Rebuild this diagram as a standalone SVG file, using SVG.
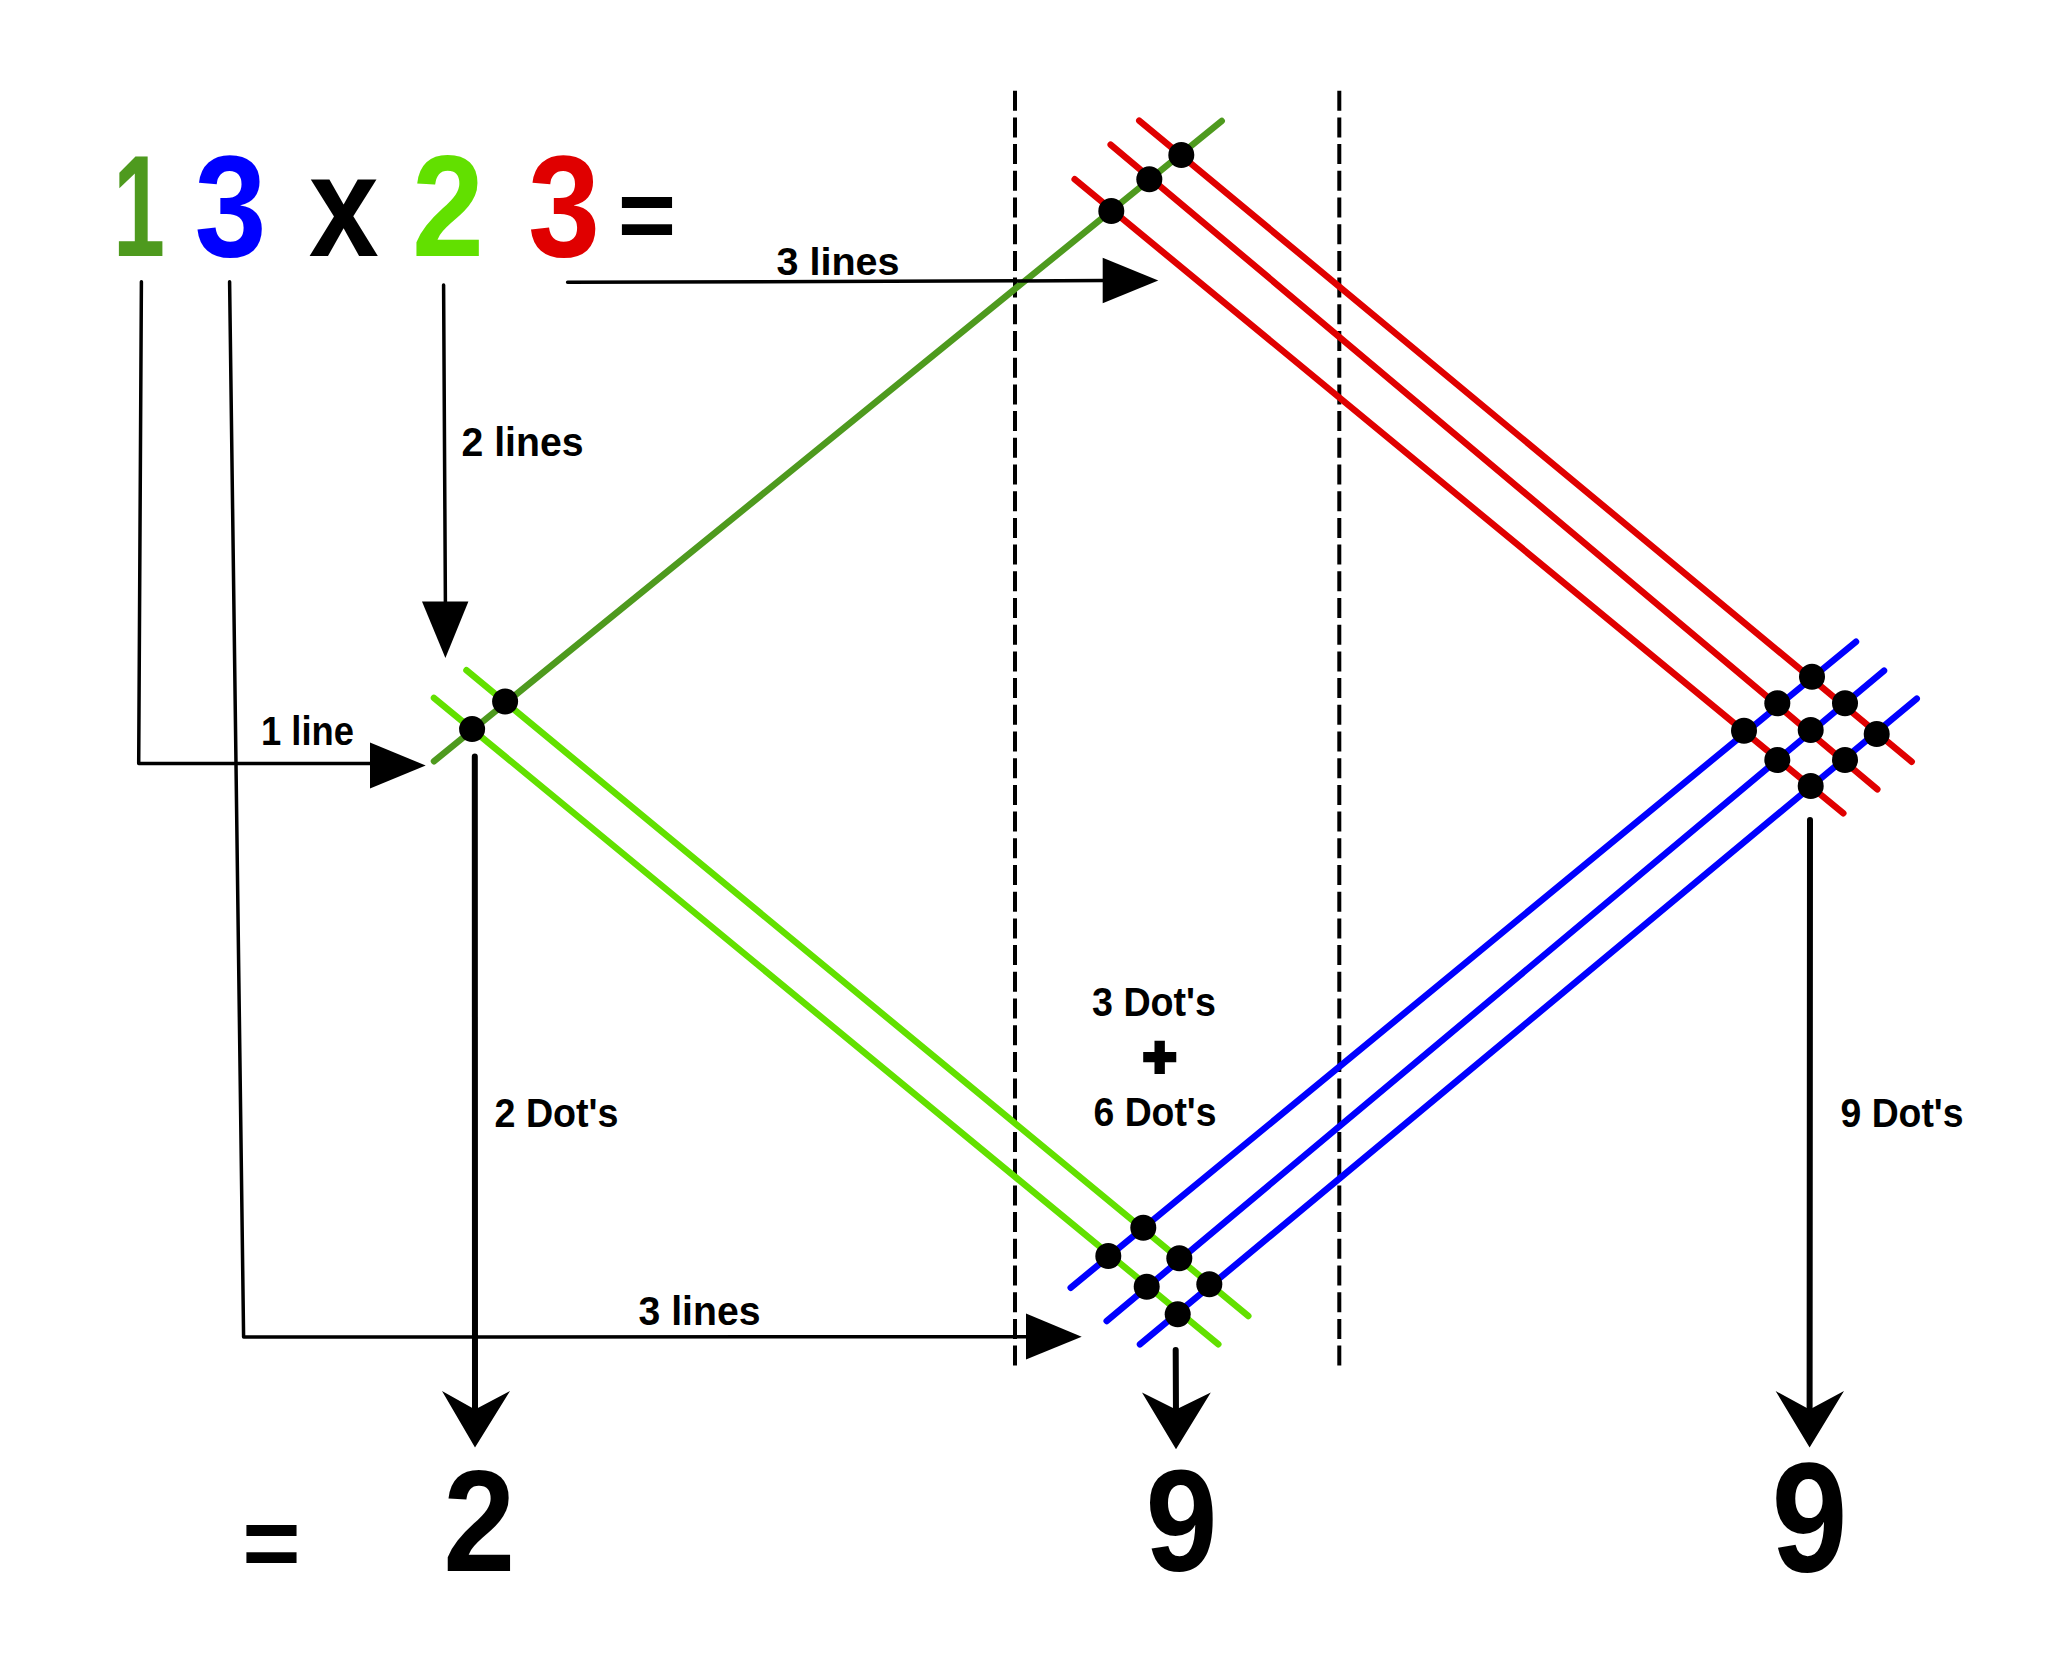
<svg xmlns="http://www.w3.org/2000/svg" width="2048" height="1657" viewBox="0 0 2048 1657">
<style>
.t{font-family:"Liberation Sans",Arial,sans-serif;font-weight:bold;fill:#000}
.big{font-size:145px}
.lbl{font-size:40px}
.c{fill:none;stroke:#000;stroke-width:3.5;stroke-linecap:round;stroke-linejoin:round}
.ca{fill:none;stroke:#000;stroke-width:6;stroke-linecap:round}
.h{fill:#000}
.dash{fill:none;stroke:#000;stroke-width:4;stroke-dasharray:20 6.7}
.dg{stroke:#4e9a1e;stroke-width:6.5;stroke-linecap:round}
.lg{stroke:#62e000;stroke-width:6.5;stroke-linecap:round}
.rd{stroke:#e00000;stroke-width:6.5;stroke-linecap:round}
.bl{stroke:#0000ff;stroke-width:6.5;stroke-linecap:round}
.dot{fill:#000}
</style>
<rect width="2048" height="1657" fill="#fff"/>

<g id="equation">
<text class="t big" x="139" y="256" text-anchor="middle" style="fill:#4e9a1e" textLength="52" lengthAdjust="spacingAndGlyphs">1</text>
<text class="t big" x="230.5" y="256" text-anchor="middle" style="fill:#0000ff" textLength="72" lengthAdjust="spacingAndGlyphs">3</text>
<text class="t big" x="343.7" y="256" text-anchor="middle" textLength="70" lengthAdjust="spacingAndGlyphs">x</text>
<text class="t big" x="448" y="256" text-anchor="middle" style="fill:#62e000" textLength="72" lengthAdjust="spacingAndGlyphs">2</text>
<text class="t big" x="564" y="256" text-anchor="middle" style="fill:#e00000" textLength="72" lengthAdjust="spacingAndGlyphs">3</text>
<text class="t" x="647" y="248.5" text-anchor="middle" font-size="100">=</text>
</g>

<g id="dividers">
<line class="dash" x1="1015" y1="90.7" x2="1015" y2="1371"/>
<line class="dash" x1="1339.3" y1="90.7" x2="1339.3" y2="1371"/>
</g>

<g id="line-groups">
<line class="dg" x1="434" y1="761.2" x2="1221.7" y2="121"/>
<line class="lg" x1="434" y1="697.9" x2="1218.3" y2="1344.3"/>
<line class="lg" x1="466.5" y1="670.3" x2="1248.3" y2="1316"/>
<line class="rd" x1="1139.3" y1="120.7" x2="1911.7" y2="761.7"/>
<line class="rd" x1="1110.7" y1="144.7" x2="1877.3" y2="789.3"/>
<line class="rd" x1="1074.7" y1="179.3" x2="1843.3" y2="813.3"/>
<line class="bl" x1="1070.7" y1="1287.7" x2="1856" y2="641.7"/>
<line class="bl" x1="1106.7" y1="1321" x2="1884" y2="670.7"/>
<line class="bl" x1="1140" y1="1344.3" x2="1916.7" y2="698.7"/>
</g>

<g id="dots">
<circle class="dot" cx="505.1" cy="701.5" r="13"/>
<circle class="dot" cx="472.1" cy="729.1" r="13"/>
<circle class="dot" cx="1181.3" cy="155" r="13"/>
<circle class="dot" cx="1149.3" cy="179.3" r="13"/>
<circle class="dot" cx="1111.3" cy="211" r="13"/>
<circle class="dot" cx="1812" cy="676.7" r="13"/>
<circle class="dot" cx="1777.3" cy="703.3" r="13"/>
<circle class="dot" cx="1845" cy="703.3" r="13"/>
<circle class="dot" cx="1744" cy="730.7" r="13"/>
<circle class="dot" cx="1810.7" cy="730" r="13"/>
<circle class="dot" cx="1876.7" cy="734" r="13"/>
<circle class="dot" cx="1777.3" cy="760" r="13"/>
<circle class="dot" cx="1845" cy="760" r="13"/>
<circle class="dot" cx="1810.7" cy="786" r="13"/>
<circle class="dot" cx="1143.3" cy="1227.7" r="13"/>
<circle class="dot" cx="1108.3" cy="1256" r="13"/>
<circle class="dot" cx="1179.3" cy="1258.3" r="13"/>
<circle class="dot" cx="1146.7" cy="1286.7" r="13"/>
<circle class="dot" cx="1209.3" cy="1284.3" r="13"/>
<circle class="dot" cx="1177.7" cy="1314.3" r="13"/>
</g>

<g id="connectors">
<polyline class="c" points="141.4,281.8 138.7,763.5 372,763.5"/>
<polygon class="h" points="370,742.5 425.7,765.5 370,788.5"/>
<polyline class="c" points="229.6,281.8 243.6,1337 1028,1336.7"/>
<polygon class="h" points="1026,1313.5 1081.7,1336.7 1026,1359.5"/>
<line class="c" x1="443.6" y1="285" x2="445.4" y2="603"/>
<polygon class="h" points="422,601.4 468.4,601.4 445.4,657.9"/>
<line class="c" x1="567.6" y1="282.3" x2="1104" y2="280.6"/>
<polygon class="h" points="1102.7,257.7 1158.3,280.5 1102.7,303.3"/>
<line class="ca" x1="474.8" y1="756.6" x2="475" y2="1420"/>
<polygon class="h" points="442,1391 475,1447.6 510,1391 475,1409.6"/>
<line class="ca" x1="1175.7" y1="1350" x2="1176" y2="1420"/>
<polygon class="h" points="1142,1392.6 1176,1449.2 1210.8,1392.6 1176,1409.6"/>
<line class="ca" x1="1810" y1="820" x2="1809.6" y2="1420"/>
<polygon class="h" points="1775.6,1391 1809.6,1447.6 1844,1391 1809.6,1409.6"/>
</g>

<g id="labels">
<text class="t" x="776.5" y="275" font-size="38" textLength="123" lengthAdjust="spacingAndGlyphs">3 lines</text>
<text class="t lbl" x="461.5" y="456.3" textLength="122" lengthAdjust="spacingAndGlyphs">2 lines</text>
<text class="t lbl" x="261" y="745.2" textLength="93" lengthAdjust="spacingAndGlyphs">1 line</text>
<text class="t lbl" x="494.5" y="1126.5" textLength="124" lengthAdjust="spacingAndGlyphs">2 Dot's</text>
<text class="t lbl" x="638.5" y="1325" textLength="122" lengthAdjust="spacingAndGlyphs">3 lines</text>
<text class="t lbl" x="1092" y="1015.5" textLength="124" lengthAdjust="spacingAndGlyphs">3 Dot's</text>
<text class="t" x="1159.7" y="1077" font-size="58" text-anchor="middle" stroke="#000" stroke-width="4">+</text>
<text class="t lbl" x="1093.5" y="1125.5" textLength="123" lengthAdjust="spacingAndGlyphs">6 Dot's</text>
<text class="t lbl" x="1840.5" y="1126.5" textLength="123" lengthAdjust="spacingAndGlyphs">9 Dot's</text>
</g>

<g id="results">
<text class="t" x="271.5" y="1577" text-anchor="middle" font-size="100">=</text>
<text class="t big" x="479.3" y="1570.5" text-anchor="middle" textLength="72" lengthAdjust="spacingAndGlyphs">2</text>
<text class="t big" x="1181.4" y="1570.5" text-anchor="middle" textLength="72" lengthAdjust="spacingAndGlyphs">9</text>
<text class="t" x="1809.5" y="1570.5" text-anchor="middle" font-size="155" textLength="76" lengthAdjust="spacingAndGlyphs">9</text>
</g>
</svg>
